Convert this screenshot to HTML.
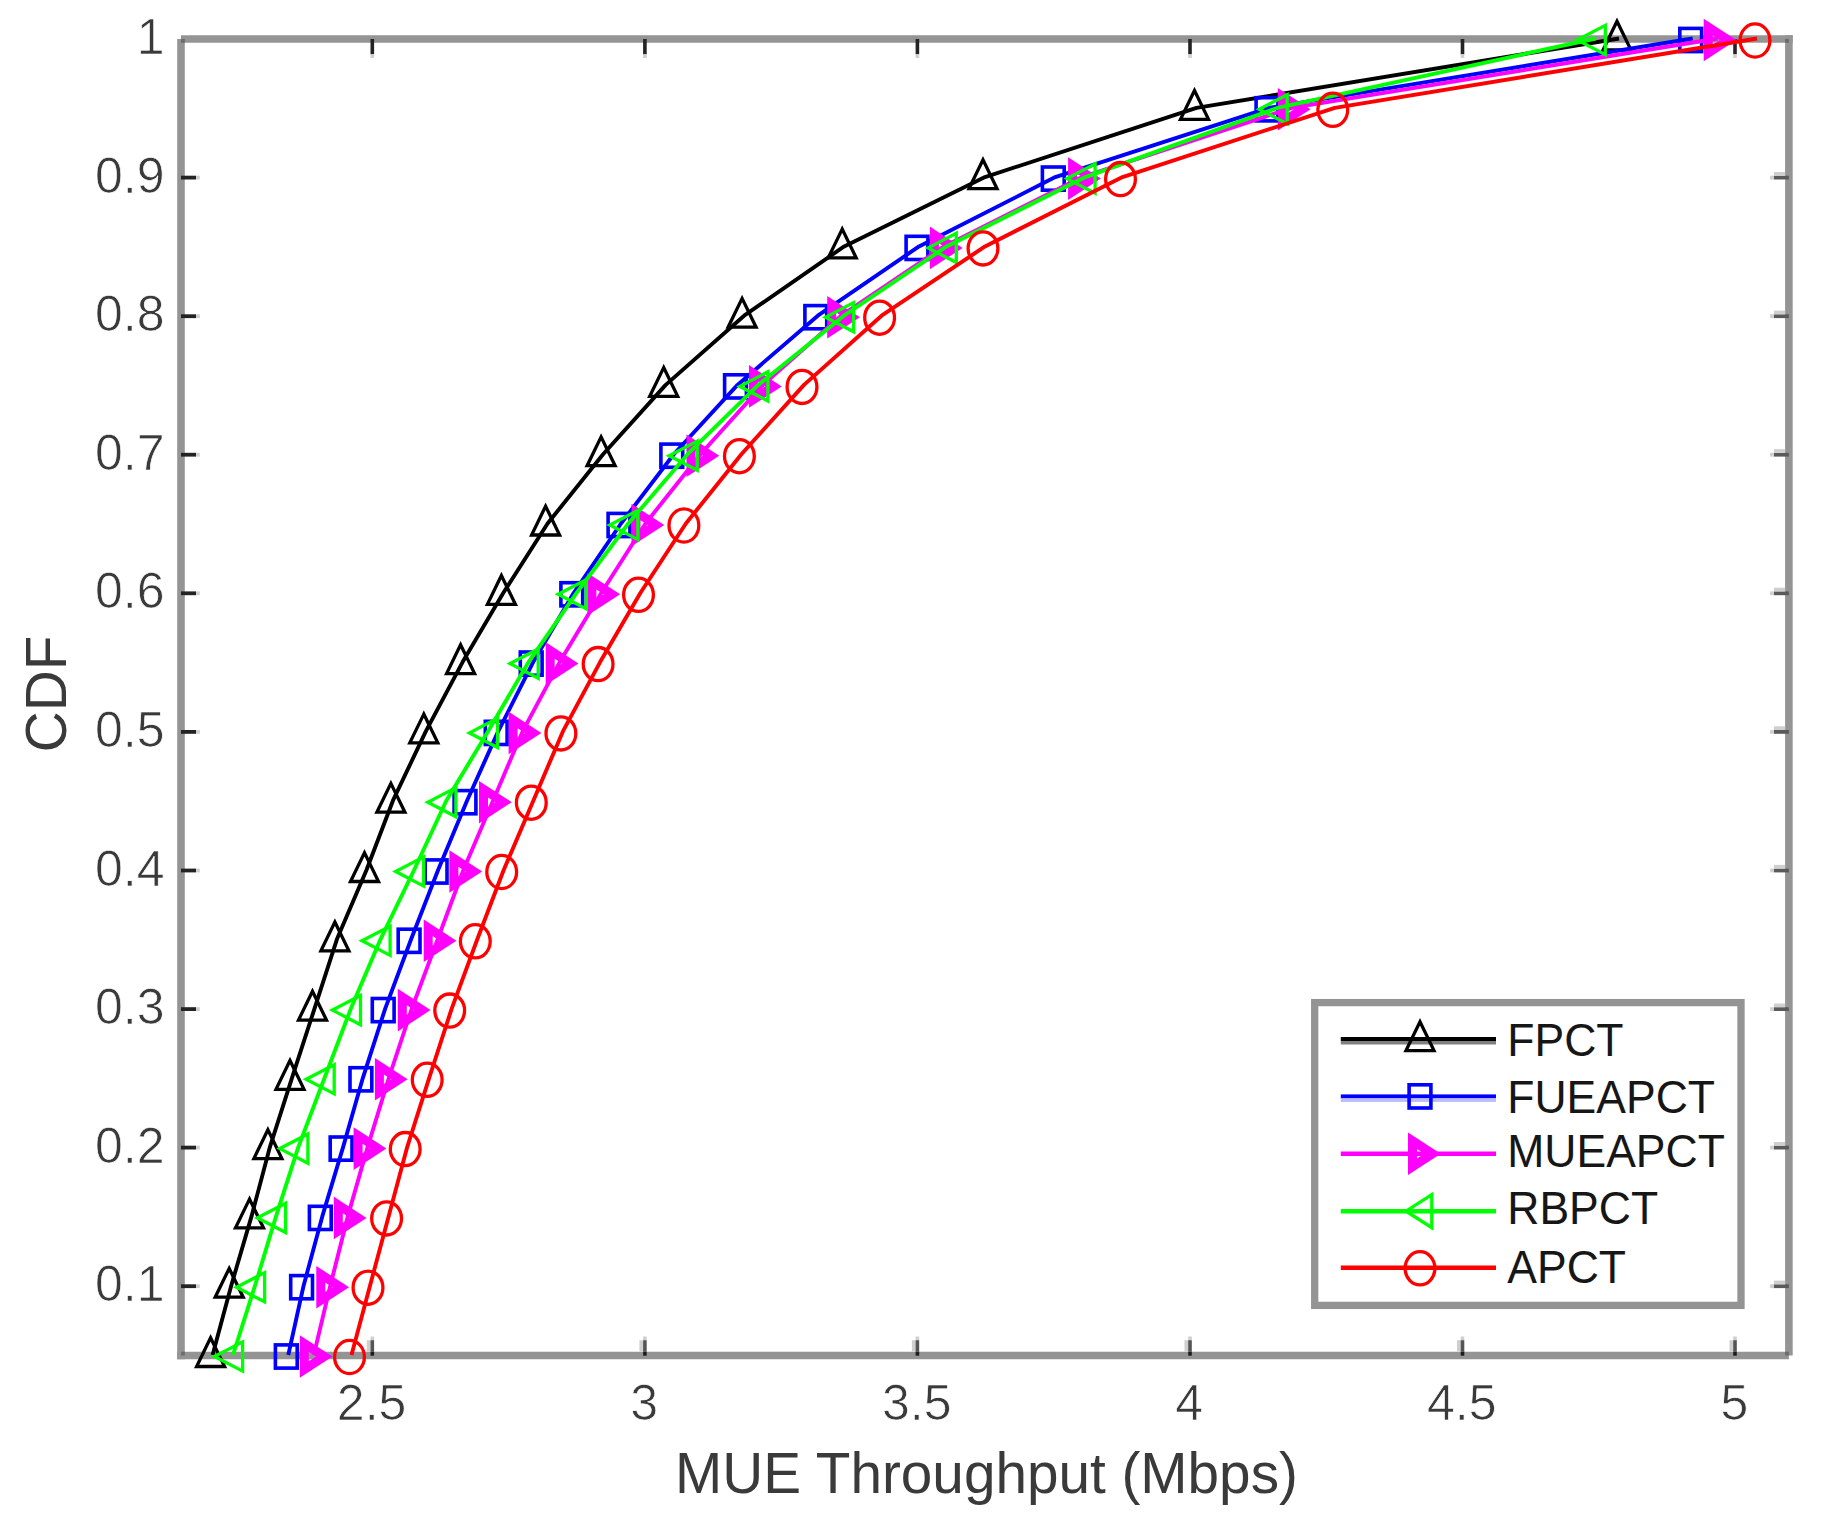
<!DOCTYPE html>
<html><head><meta charset="utf-8"><title>CDF of MUE Throughput</title>
<style>
html,body{margin:0;padding:0;background:#fff;}
body{width:1823px;height:1522px;overflow:hidden;}
svg{display:block;}
text{font-family:"Liberation Sans",sans-serif;}
.tk{font-size:50px;fill:#3a3a3a;stroke:#fff;stroke-width:0.7px;}
.lb{font-size:56.7px;fill:#3a3a3a;}
.lg{font-size:44.5px;fill:#161616;}
</style></head><body>
<svg width="1823" height="1522" viewBox="0 0 1823 1522">
<rect width="1823" height="1522" fill="#fff"/>

<g stroke="#949494" stroke-width="7.6" fill="none">
<line x1="181.0" y1="39.0" x2="1792.7" y2="39.0"/>
<line x1="181.0" y1="39.0" x2="181.0" y2="1359.3"/>
<line x1="177.2" y1="1355.5" x2="1788.9" y2="1355.5"/>
<line x1="1788.9" y1="35.2" x2="1788.9" y2="1355.5"/>
</g>
<rect x="181.0" y="39.0" width="3.8" height="3.8" fill="#6c6c6c"/>
<rect x="1785.1" y="39.0" width="3.8" height="3.8" fill="#6c6c6c"/>
<rect x="181.0" y="1351.7" width="3.8" height="3.8" fill="#6c6c6c"/>
<rect x="1785.1" y="1351.7" width="3.8" height="3.8" fill="#6c6c6c"/>
<rect x="366.8" y="1340.2" width="3.8" height="11.5" fill="#cfcfcf"/>
<rect x="370.5" y="1336.5" width="3.6" height="3.8" fill="#cfcfcf"/>
<rect x="370.5" y="1340.2" width="3.6" height="11.5" fill="#555555"/>
<rect x="370.5" y="1351.7" width="3.6" height="4" fill="#1c1c1c"/>
<rect x="370.5" y="39.0" width="3.6" height="15.3" fill="#232323"/>
<rect x="370.5" y="54.3" width="3.6" height="3.7" fill="#cfcfcf"/>
<text class="tk" x="371.6" y="1420.3" text-anchor="middle">2.5</text>
<rect x="639.4" y="1340.2" width="3.8" height="11.5" fill="#cfcfcf"/>
<rect x="643.1" y="1336.5" width="3.6" height="3.8" fill="#cfcfcf"/>
<rect x="643.1" y="1340.2" width="3.6" height="11.5" fill="#555555"/>
<rect x="643.1" y="1351.7" width="3.6" height="4" fill="#1c1c1c"/>
<rect x="643.1" y="39.0" width="3.6" height="15.3" fill="#232323"/>
<rect x="643.1" y="54.3" width="3.6" height="3.7" fill="#cfcfcf"/>
<text class="tk" x="644.1" y="1420.3" text-anchor="middle">3</text>
<rect x="911.9" y="1340.2" width="3.8" height="11.5" fill="#cfcfcf"/>
<rect x="915.6" y="1336.5" width="3.6" height="3.8" fill="#cfcfcf"/>
<rect x="915.6" y="1340.2" width="3.6" height="11.5" fill="#555555"/>
<rect x="915.6" y="1351.7" width="3.6" height="4" fill="#1c1c1c"/>
<rect x="915.6" y="39.0" width="3.6" height="15.3" fill="#232323"/>
<rect x="915.6" y="54.3" width="3.6" height="3.7" fill="#cfcfcf"/>
<text class="tk" x="916.7" y="1420.3" text-anchor="middle">3.5</text>
<rect x="1184.5" y="1340.2" width="3.8" height="11.5" fill="#cfcfcf"/>
<rect x="1188.2" y="1336.5" width="3.6" height="3.8" fill="#cfcfcf"/>
<rect x="1188.2" y="1340.2" width="3.6" height="11.5" fill="#555555"/>
<rect x="1188.2" y="1351.7" width="3.6" height="4" fill="#1c1c1c"/>
<rect x="1188.2" y="39.0" width="3.6" height="15.3" fill="#232323"/>
<rect x="1188.2" y="54.3" width="3.6" height="3.7" fill="#cfcfcf"/>
<text class="tk" x="1189.2" y="1420.3" text-anchor="middle">4</text>
<rect x="1457.0" y="1340.2" width="3.8" height="11.5" fill="#cfcfcf"/>
<rect x="1460.7" y="1336.5" width="3.6" height="3.8" fill="#cfcfcf"/>
<rect x="1460.7" y="1340.2" width="3.6" height="11.5" fill="#555555"/>
<rect x="1460.7" y="1351.7" width="3.6" height="4" fill="#1c1c1c"/>
<rect x="1460.7" y="39.0" width="3.6" height="15.3" fill="#232323"/>
<rect x="1460.7" y="54.3" width="3.6" height="3.7" fill="#cfcfcf"/>
<text class="tk" x="1461.8" y="1420.3" text-anchor="middle">4.5</text>
<rect x="1729.5" y="1340.2" width="3.8" height="11.5" fill="#cfcfcf"/>
<rect x="1733.2" y="1336.5" width="3.6" height="3.8" fill="#cfcfcf"/>
<rect x="1733.2" y="1340.2" width="3.6" height="11.5" fill="#555555"/>
<rect x="1733.2" y="1351.7" width="3.6" height="4" fill="#1c1c1c"/>
<rect x="1733.2" y="39.0" width="3.6" height="15.3" fill="#232323"/>
<rect x="1733.2" y="54.3" width="3.6" height="3.7" fill="#cfcfcf"/>
<text class="tk" x="1734.3" y="1420.3" text-anchor="middle">5</text>
<rect x="181.0" y="1284.3" width="15" height="3.8" fill="#232323"/>
<rect x="196.0" y="1284.3" width="3.8" height="3.8" fill="#cfcfcf"/>
<rect x="1773.9" y="1284.3" width="15" height="3.8" fill="#5a5a5a"/>
<rect x="1770.1" y="1284.3" width="3.8" height="3.8" fill="#cfcfcf"/>
<rect x="1773.9" y="1280.6" width="11.2" height="3.7" fill="#cfcfcf"/>
<text class="tk" x="164.5" y="1301.2" text-anchor="end">0.1</text>
<rect x="181.0" y="1145.7" width="15" height="3.8" fill="#232323"/>
<rect x="196.0" y="1145.7" width="3.8" height="3.8" fill="#cfcfcf"/>
<rect x="1773.9" y="1145.7" width="15" height="3.8" fill="#5a5a5a"/>
<rect x="1770.1" y="1145.7" width="3.8" height="3.8" fill="#cfcfcf"/>
<rect x="1773.9" y="1142.0" width="11.2" height="3.7" fill="#cfcfcf"/>
<text class="tk" x="164.5" y="1162.6" text-anchor="end">0.2</text>
<rect x="181.0" y="1007.2" width="15" height="3.8" fill="#232323"/>
<rect x="196.0" y="1007.2" width="3.8" height="3.8" fill="#cfcfcf"/>
<rect x="1773.9" y="1007.2" width="15" height="3.8" fill="#5a5a5a"/>
<rect x="1770.1" y="1007.2" width="3.8" height="3.8" fill="#cfcfcf"/>
<rect x="1773.9" y="1003.5" width="11.2" height="3.7" fill="#cfcfcf"/>
<text class="tk" x="164.5" y="1024.1" text-anchor="end">0.3</text>
<rect x="181.0" y="868.6" width="15" height="3.8" fill="#232323"/>
<rect x="196.0" y="868.6" width="3.8" height="3.8" fill="#cfcfcf"/>
<rect x="1773.9" y="868.6" width="15" height="3.8" fill="#5a5a5a"/>
<rect x="1770.1" y="868.6" width="3.8" height="3.8" fill="#cfcfcf"/>
<rect x="1773.9" y="864.9" width="11.2" height="3.7" fill="#cfcfcf"/>
<text class="tk" x="164.5" y="885.5" text-anchor="end">0.4</text>
<rect x="181.0" y="730.0" width="15" height="3.8" fill="#232323"/>
<rect x="196.0" y="730.0" width="3.8" height="3.8" fill="#cfcfcf"/>
<rect x="1773.9" y="730.0" width="15" height="3.8" fill="#5a5a5a"/>
<rect x="1770.1" y="730.0" width="3.8" height="3.8" fill="#cfcfcf"/>
<rect x="1773.9" y="726.3" width="11.2" height="3.7" fill="#cfcfcf"/>
<text class="tk" x="164.5" y="746.9" text-anchor="end">0.5</text>
<rect x="181.0" y="591.4" width="15" height="3.8" fill="#232323"/>
<rect x="196.0" y="591.4" width="3.8" height="3.8" fill="#cfcfcf"/>
<rect x="1773.9" y="591.4" width="15" height="3.8" fill="#5a5a5a"/>
<rect x="1770.1" y="591.4" width="3.8" height="3.8" fill="#cfcfcf"/>
<rect x="1773.9" y="587.7" width="11.2" height="3.7" fill="#cfcfcf"/>
<text class="tk" x="164.5" y="608.3" text-anchor="end">0.6</text>
<rect x="181.0" y="452.8" width="15" height="3.8" fill="#232323"/>
<rect x="196.0" y="452.8" width="3.8" height="3.8" fill="#cfcfcf"/>
<rect x="1773.9" y="452.8" width="15" height="3.8" fill="#5a5a5a"/>
<rect x="1770.1" y="452.8" width="3.8" height="3.8" fill="#cfcfcf"/>
<rect x="1773.9" y="449.1" width="11.2" height="3.7" fill="#cfcfcf"/>
<text class="tk" x="164.5" y="469.7" text-anchor="end">0.7</text>
<rect x="181.0" y="314.3" width="15" height="3.8" fill="#232323"/>
<rect x="196.0" y="314.3" width="3.8" height="3.8" fill="#cfcfcf"/>
<rect x="1773.9" y="314.3" width="15" height="3.8" fill="#5a5a5a"/>
<rect x="1770.1" y="314.3" width="3.8" height="3.8" fill="#cfcfcf"/>
<rect x="1773.9" y="310.6" width="11.2" height="3.7" fill="#cfcfcf"/>
<text class="tk" x="164.5" y="331.2" text-anchor="end">0.8</text>
<rect x="181.0" y="175.7" width="15" height="3.8" fill="#232323"/>
<rect x="196.0" y="175.7" width="3.8" height="3.8" fill="#cfcfcf"/>
<rect x="1773.9" y="175.7" width="15" height="3.8" fill="#5a5a5a"/>
<rect x="1770.1" y="175.7" width="3.8" height="3.8" fill="#cfcfcf"/>
<rect x="1773.9" y="172.0" width="11.2" height="3.7" fill="#cfcfcf"/>
<text class="tk" x="164.5" y="192.6" text-anchor="end">0.9</text>
<text class="tk" x="164.5" y="54.0" text-anchor="end">1</text>
<text class="lb" x="986.5" y="1493.3" text-anchor="middle">MUE Throughput (Mbps)</text>
<text class="lb" transform="translate(65.8,694) rotate(-90)" text-anchor="middle">CDF</text>
<polyline points="212.6,1355.0 231.2,1285.7 251.5,1216.4 269.9,1147.1 292.0,1077.8 314.5,1008.6 336.9,939.3 366.5,870.0 392.9,800.7 425.8,731.4 462.6,662.1 503.4,592.8 547.6,523.5 603.1,454.2 665.7,384.9 744.1,315.7 844.2,246.4 985.0,177.1 1196.5,107.8 1619.0,38.5" fill="none" stroke="#000000" stroke-width="3.9" stroke-linejoin="round"/>
<polygon points="210.6,1337.7 196.6,1366.5 224.6,1366.5" fill="none" stroke="#000000" stroke-width="3.3" stroke-linejoin="miter"/>
<polygon points="229.2,1268.4 215.2,1297.2 243.2,1297.2" fill="none" stroke="#000000" stroke-width="3.3" stroke-linejoin="miter"/>
<polygon points="249.5,1199.1 235.5,1227.9 263.5,1227.9" fill="none" stroke="#000000" stroke-width="3.3" stroke-linejoin="miter"/>
<polygon points="267.9,1129.8 253.9,1158.6 281.9,1158.6" fill="none" stroke="#000000" stroke-width="3.3" stroke-linejoin="miter"/>
<polygon points="290.0,1060.5 276.0,1089.3 304.0,1089.3" fill="none" stroke="#000000" stroke-width="3.3" stroke-linejoin="miter"/>
<polygon points="312.5,991.3 298.5,1020.1 326.5,1020.1" fill="none" stroke="#000000" stroke-width="3.3" stroke-linejoin="miter"/>
<polygon points="334.9,922.0 320.9,950.8 348.9,950.8" fill="none" stroke="#000000" stroke-width="3.3" stroke-linejoin="miter"/>
<polygon points="364.5,852.7 350.5,881.5 378.5,881.5" fill="none" stroke="#000000" stroke-width="3.3" stroke-linejoin="miter"/>
<polygon points="390.9,783.4 376.9,812.2 404.9,812.2" fill="none" stroke="#000000" stroke-width="3.3" stroke-linejoin="miter"/>
<polygon points="423.8,714.1 409.8,742.9 437.8,742.9" fill="none" stroke="#000000" stroke-width="3.3" stroke-linejoin="miter"/>
<polygon points="460.6,644.8 446.6,673.6 474.6,673.6" fill="none" stroke="#000000" stroke-width="3.3" stroke-linejoin="miter"/>
<polygon points="501.4,575.5 487.4,604.3 515.4,604.3" fill="none" stroke="#000000" stroke-width="3.3" stroke-linejoin="miter"/>
<polygon points="545.6,506.2 531.6,535.0 559.6,535.0" fill="none" stroke="#000000" stroke-width="3.3" stroke-linejoin="miter"/>
<polygon points="601.1,436.9 587.1,465.7 615.1,465.7" fill="none" stroke="#000000" stroke-width="3.3" stroke-linejoin="miter"/>
<polygon points="663.7,367.6 649.7,396.4 677.7,396.4" fill="none" stroke="#000000" stroke-width="3.3" stroke-linejoin="miter"/>
<polygon points="742.1,298.4 728.1,327.2 756.1,327.2" fill="none" stroke="#000000" stroke-width="3.3" stroke-linejoin="miter"/>
<polygon points="842.2,229.1 828.2,257.9 856.2,257.9" fill="none" stroke="#000000" stroke-width="3.3" stroke-linejoin="miter"/>
<polygon points="983.0,159.8 969.0,188.6 997.0,188.6" fill="none" stroke="#000000" stroke-width="3.3" stroke-linejoin="miter"/>
<polygon points="1194.5,90.5 1180.5,119.3 1208.5,119.3" fill="none" stroke="#000000" stroke-width="3.3" stroke-linejoin="miter"/>
<polygon points="1617.0,21.2 1603.0,50.0 1631.0,50.0" fill="none" stroke="#000000" stroke-width="3.3" stroke-linejoin="miter"/>
<polyline points="288.3,1355.0 303.6,1285.7 322.3,1216.4 343.1,1147.1 362.9,1077.8 385.2,1008.6 411.1,939.3 438.1,870.0 467.0,800.7 498.2,731.4 533.2,662.1 573.8,592.8 621.0,523.5 673.8,454.2 737.5,384.9 817.8,315.7 919.0,246.4 1055.3,177.1 1269.0,107.8 1692.7,38.5" fill="none" stroke="#0000ff" stroke-width="3.9" stroke-linejoin="round"/>
<rect x="275.4" y="1344.9" width="21.8" height="23.2" fill="none" stroke="#0000ff" stroke-width="3.5999999999999996"/>
<rect x="290.7" y="1275.6" width="21.8" height="23.2" fill="none" stroke="#0000ff" stroke-width="3.5999999999999996"/>
<rect x="309.4" y="1206.3" width="21.8" height="23.2" fill="none" stroke="#0000ff" stroke-width="3.5999999999999996"/>
<rect x="330.2" y="1137.0" width="21.8" height="23.2" fill="none" stroke="#0000ff" stroke-width="3.5999999999999996"/>
<rect x="350.0" y="1067.7" width="21.8" height="23.2" fill="none" stroke="#0000ff" stroke-width="3.5999999999999996"/>
<rect x="372.3" y="998.5" width="21.8" height="23.2" fill="none" stroke="#0000ff" stroke-width="3.5999999999999996"/>
<rect x="398.2" y="929.2" width="21.8" height="23.2" fill="none" stroke="#0000ff" stroke-width="3.5999999999999996"/>
<rect x="425.2" y="859.9" width="21.8" height="23.2" fill="none" stroke="#0000ff" stroke-width="3.5999999999999996"/>
<rect x="454.1" y="790.6" width="21.8" height="23.2" fill="none" stroke="#0000ff" stroke-width="3.5999999999999996"/>
<rect x="485.3" y="721.3" width="21.8" height="23.2" fill="none" stroke="#0000ff" stroke-width="3.5999999999999996"/>
<rect x="520.3" y="652.0" width="21.8" height="23.2" fill="none" stroke="#0000ff" stroke-width="3.5999999999999996"/>
<rect x="560.9" y="582.7" width="21.8" height="23.2" fill="none" stroke="#0000ff" stroke-width="3.5999999999999996"/>
<rect x="608.1" y="513.4" width="21.8" height="23.2" fill="none" stroke="#0000ff" stroke-width="3.5999999999999996"/>
<rect x="660.9" y="444.1" width="21.8" height="23.2" fill="none" stroke="#0000ff" stroke-width="3.5999999999999996"/>
<rect x="724.6" y="374.8" width="21.8" height="23.2" fill="none" stroke="#0000ff" stroke-width="3.5999999999999996"/>
<rect x="804.9" y="305.6" width="21.8" height="23.2" fill="none" stroke="#0000ff" stroke-width="3.5999999999999996"/>
<rect x="906.1" y="236.3" width="21.8" height="23.2" fill="none" stroke="#0000ff" stroke-width="3.5999999999999996"/>
<rect x="1042.4" y="167.0" width="21.8" height="23.2" fill="none" stroke="#0000ff" stroke-width="3.5999999999999996"/>
<rect x="1256.1" y="97.7" width="21.8" height="23.2" fill="none" stroke="#0000ff" stroke-width="3.5999999999999996"/>
<rect x="1679.8" y="28.4" width="21.8" height="23.2" fill="none" stroke="#0000ff" stroke-width="3.5999999999999996"/>
<polyline points="313.8,1355.0 330.3,1285.7 347.8,1216.4 367.6,1147.1 388.9,1077.8 411.8,1008.6 437.7,939.3 463.4,870.0 493.0,800.7 522.6,731.4 559.7,662.1 601.4,592.8 645.5,523.5 700.5,454.2 763.0,384.9 841.2,315.7 943.9,246.4 1082.1,177.1 1291.8,107.8 1717.7,38.5" fill="none" stroke="#ff00ff" stroke-width="3.9" stroke-linejoin="round"/>
<polygon points="304.3,1343.5 324.3,1356.5 304.3,1369.5" fill="none" stroke="#ff00ff" stroke-width="9" stroke-linejoin="miter"/>
<polygon points="320.8,1274.2 340.8,1287.2 320.8,1300.2" fill="none" stroke="#ff00ff" stroke-width="9" stroke-linejoin="miter"/>
<polygon points="338.3,1204.9 358.3,1217.9 338.3,1230.9" fill="none" stroke="#ff00ff" stroke-width="9" stroke-linejoin="miter"/>
<polygon points="358.1,1135.6 378.1,1148.6 358.1,1161.6" fill="none" stroke="#ff00ff" stroke-width="9" stroke-linejoin="miter"/>
<polygon points="379.4,1066.3 399.4,1079.3 379.4,1092.3" fill="none" stroke="#ff00ff" stroke-width="9" stroke-linejoin="miter"/>
<polygon points="402.3,997.1 422.3,1010.1 402.3,1023.1" fill="none" stroke="#ff00ff" stroke-width="9" stroke-linejoin="miter"/>
<polygon points="428.2,927.8 448.2,940.8 428.2,953.8" fill="none" stroke="#ff00ff" stroke-width="9" stroke-linejoin="miter"/>
<polygon points="453.9,858.5 473.9,871.5 453.9,884.5" fill="none" stroke="#ff00ff" stroke-width="9" stroke-linejoin="miter"/>
<polygon points="483.5,789.2 503.5,802.2 483.5,815.2" fill="none" stroke="#ff00ff" stroke-width="9" stroke-linejoin="miter"/>
<polygon points="513.1,719.9 533.1,732.9 513.1,745.9" fill="none" stroke="#ff00ff" stroke-width="9" stroke-linejoin="miter"/>
<polygon points="550.2,650.6 570.2,663.6 550.2,676.6" fill="none" stroke="#ff00ff" stroke-width="9" stroke-linejoin="miter"/>
<polygon points="591.9,581.3 611.9,594.3 591.9,607.3" fill="none" stroke="#ff00ff" stroke-width="9" stroke-linejoin="miter"/>
<polygon points="636.0,512.0 656.0,525.0 636.0,538.0" fill="none" stroke="#ff00ff" stroke-width="9" stroke-linejoin="miter"/>
<polygon points="691.0,442.7 711.0,455.7 691.0,468.7" fill="none" stroke="#ff00ff" stroke-width="9" stroke-linejoin="miter"/>
<polygon points="753.5,373.4 773.5,386.4 753.5,399.4" fill="none" stroke="#ff00ff" stroke-width="9" stroke-linejoin="miter"/>
<polygon points="831.7,304.2 851.7,317.2 831.7,330.2" fill="none" stroke="#ff00ff" stroke-width="9" stroke-linejoin="miter"/>
<polygon points="934.4,234.9 954.4,247.9 934.4,260.9" fill="none" stroke="#ff00ff" stroke-width="9" stroke-linejoin="miter"/>
<polygon points="1072.6,165.6 1092.6,178.6 1072.6,191.6" fill="none" stroke="#ff00ff" stroke-width="9" stroke-linejoin="miter"/>
<polygon points="1282.3,96.3 1302.3,109.3 1282.3,122.3" fill="none" stroke="#ff00ff" stroke-width="9" stroke-linejoin="miter"/>
<polygon points="1708.2,27.0 1728.2,40.0 1708.2,53.0" fill="none" stroke="#ff00ff" stroke-width="9" stroke-linejoin="miter"/>
<polyline points="233.0,1355.0 255.0,1285.7 276.0,1216.4 298.3,1147.1 324.6,1077.8 350.9,1008.6 380.5,939.3 414.1,870.0 446.3,800.7 488.0,731.4 528.6,662.1 576.6,592.8 628.3,523.5 687.6,454.2 758.3,384.9 844.0,315.7 946.7,246.4 1085.5,177.1 1277.6,107.8 1595.7,38.5" fill="none" stroke="#00ff00" stroke-width="3.9" stroke-linejoin="round"/>
<polygon points="242.6,1341.9 214.5,1356.5 242.6,1371.1" fill="none" stroke="#00ff00" stroke-width="3.3" stroke-linejoin="miter"/>
<polygon points="264.6,1272.6 236.5,1287.2 264.6,1301.8" fill="none" stroke="#00ff00" stroke-width="3.3" stroke-linejoin="miter"/>
<polygon points="285.6,1203.3 257.5,1217.9 285.6,1232.5" fill="none" stroke="#00ff00" stroke-width="3.3" stroke-linejoin="miter"/>
<polygon points="307.9,1134.0 279.8,1148.6 307.9,1163.2" fill="none" stroke="#00ff00" stroke-width="3.3" stroke-linejoin="miter"/>
<polygon points="334.2,1064.7 306.1,1079.3 334.2,1093.9" fill="none" stroke="#00ff00" stroke-width="3.3" stroke-linejoin="miter"/>
<polygon points="360.5,995.5 332.4,1010.1 360.5,1024.7" fill="none" stroke="#00ff00" stroke-width="3.3" stroke-linejoin="miter"/>
<polygon points="390.1,926.2 362.0,940.8 390.1,955.4" fill="none" stroke="#00ff00" stroke-width="3.3" stroke-linejoin="miter"/>
<polygon points="423.7,856.9 395.6,871.5 423.7,886.1" fill="none" stroke="#00ff00" stroke-width="3.3" stroke-linejoin="miter"/>
<polygon points="455.9,787.6 427.8,802.2 455.9,816.8" fill="none" stroke="#00ff00" stroke-width="3.3" stroke-linejoin="miter"/>
<polygon points="497.6,718.3 469.5,732.9 497.6,747.5" fill="none" stroke="#00ff00" stroke-width="3.3" stroke-linejoin="miter"/>
<polygon points="538.2,649.0 510.1,663.6 538.2,678.2" fill="none" stroke="#00ff00" stroke-width="3.3" stroke-linejoin="miter"/>
<polygon points="586.2,579.7 558.1,594.3 586.2,608.9" fill="none" stroke="#00ff00" stroke-width="3.3" stroke-linejoin="miter"/>
<polygon points="637.9,510.4 609.8,525.0 637.9,539.6" fill="none" stroke="#00ff00" stroke-width="3.3" stroke-linejoin="miter"/>
<polygon points="697.2,441.1 669.1,455.7 697.2,470.3" fill="none" stroke="#00ff00" stroke-width="3.3" stroke-linejoin="miter"/>
<polygon points="767.9,371.8 739.8,386.4 767.9,401.0" fill="none" stroke="#00ff00" stroke-width="3.3" stroke-linejoin="miter"/>
<polygon points="853.6,302.6 825.5,317.2 853.6,331.8" fill="none" stroke="#00ff00" stroke-width="3.3" stroke-linejoin="miter"/>
<polygon points="956.3,233.3 928.2,247.9 956.3,262.5" fill="none" stroke="#00ff00" stroke-width="3.3" stroke-linejoin="miter"/>
<polygon points="1095.1,164.0 1067.0,178.6 1095.1,193.2" fill="none" stroke="#00ff00" stroke-width="3.3" stroke-linejoin="miter"/>
<polygon points="1287.2,94.7 1259.1,109.3 1287.2,123.9" fill="none" stroke="#00ff00" stroke-width="3.3" stroke-linejoin="miter"/>
<polygon points="1605.3,25.4 1577.2,40.0 1605.3,54.6" fill="none" stroke="#00ff00" stroke-width="3.3" stroke-linejoin="miter"/>
<polyline points="351.5,1355.0 370.0,1285.7 388.6,1216.4 407.2,1147.1 429.2,1077.8 451.7,1008.6 477.3,939.3 503.7,870.0 533.3,800.7 562.9,731.4 600.1,662.1 640.5,592.8 685.9,523.5 741.4,454.2 804.0,384.9 881.6,315.7 985.0,246.4 1122.5,177.1 1334.8,107.8 1757.0,38.5" fill="none" stroke="#ff0000" stroke-width="3.9" stroke-linejoin="round"/>
<ellipse cx="349.5" cy="1357.0" rx="14.9" ry="16.6" fill="none" stroke="#ff0000" stroke-width="3.3"/>
<ellipse cx="368.0" cy="1287.7" rx="14.9" ry="16.6" fill="none" stroke="#ff0000" stroke-width="3.3"/>
<ellipse cx="386.6" cy="1218.4" rx="14.9" ry="16.6" fill="none" stroke="#ff0000" stroke-width="3.3"/>
<ellipse cx="405.2" cy="1149.1" rx="14.9" ry="16.6" fill="none" stroke="#ff0000" stroke-width="3.3"/>
<ellipse cx="427.2" cy="1079.8" rx="14.9" ry="16.6" fill="none" stroke="#ff0000" stroke-width="3.3"/>
<ellipse cx="449.7" cy="1010.6" rx="14.9" ry="16.6" fill="none" stroke="#ff0000" stroke-width="3.3"/>
<ellipse cx="475.3" cy="941.3" rx="14.9" ry="16.6" fill="none" stroke="#ff0000" stroke-width="3.3"/>
<ellipse cx="501.7" cy="872.0" rx="14.9" ry="16.6" fill="none" stroke="#ff0000" stroke-width="3.3"/>
<ellipse cx="531.3" cy="802.7" rx="14.9" ry="16.6" fill="none" stroke="#ff0000" stroke-width="3.3"/>
<ellipse cx="560.9" cy="733.4" rx="14.9" ry="16.6" fill="none" stroke="#ff0000" stroke-width="3.3"/>
<ellipse cx="598.1" cy="664.1" rx="14.9" ry="16.6" fill="none" stroke="#ff0000" stroke-width="3.3"/>
<ellipse cx="638.5" cy="594.8" rx="14.9" ry="16.6" fill="none" stroke="#ff0000" stroke-width="3.3"/>
<ellipse cx="683.9" cy="525.5" rx="14.9" ry="16.6" fill="none" stroke="#ff0000" stroke-width="3.3"/>
<ellipse cx="739.4" cy="456.2" rx="14.9" ry="16.6" fill="none" stroke="#ff0000" stroke-width="3.3"/>
<ellipse cx="802.0" cy="386.9" rx="14.9" ry="16.6" fill="none" stroke="#ff0000" stroke-width="3.3"/>
<ellipse cx="879.6" cy="317.7" rx="14.9" ry="16.6" fill="none" stroke="#ff0000" stroke-width="3.3"/>
<ellipse cx="983.0" cy="248.4" rx="14.9" ry="16.6" fill="none" stroke="#ff0000" stroke-width="3.3"/>
<ellipse cx="1120.5" cy="179.1" rx="14.9" ry="16.6" fill="none" stroke="#ff0000" stroke-width="3.3"/>
<ellipse cx="1332.8" cy="109.8" rx="14.9" ry="16.6" fill="none" stroke="#ff0000" stroke-width="3.3"/>
<ellipse cx="1755.0" cy="40.5" rx="14.9" ry="16.6" fill="none" stroke="#ff0000" stroke-width="3.3"/>
<rect x="1314.7" y="1002.6" width="426.3" height="302.8" fill="#fff" stroke="#949494" stroke-width="7.3"/>
<rect x="1340.8" y="1037.0" width="155.2" height="4.0" fill="#000000"/>
<rect x="1340.8" y="1041.0" width="155.2" height="3.5" fill="#808080"/>
<polygon points="1420.0,1021.8 1406.0,1050.6 1434.0,1050.6" fill="none" stroke="#000000" stroke-width="3.3" stroke-linejoin="miter"/>
<text class="lg" transform="translate(1507.3,1055.8) scale(1,1.06)">FPCT</text>
<rect x="1340.8" y="1094.4" width="155.2" height="4.0" fill="#0000ff"/>
<rect x="1340.8" y="1098.4" width="155.2" height="3.5" fill="#bbbbff"/>
<rect x="1409.1" y="1084.8" width="21.8" height="23.2" fill="none" stroke="#0000ff" stroke-width="3.5999999999999996"/>
<text class="lg" transform="translate(1507.3,1113.2) scale(1,1.06)">FUEAPCT</text>
<line x1="1340.8" y1="1153.8" x2="1496" y2="1153.8" stroke="#ff00ff" stroke-width="4.6"/>
<polygon points="1412.5,1140.8 1432.5,1153.8 1412.5,1166.8" fill="none" stroke="#ff00ff" stroke-width="9" stroke-linejoin="miter"/>
<text class="lg" transform="translate(1507.3,1167.0) scale(1,1.06)">MUEAPCT</text>
<line x1="1340.8" y1="1211.2" x2="1496" y2="1211.2" stroke="#00ff00" stroke-width="4.6"/>
<polygon points="1431.8,1194.7 1406.0,1211.2 1431.8,1227.7" fill="none" stroke="#00ff00" stroke-width="3.3" stroke-linejoin="miter"/>
<text class="lg" transform="translate(1507.3,1224.3) scale(1,1.06)">RBPCT</text>
<line x1="1340.8" y1="1267.8" x2="1496" y2="1267.8" stroke="#ff0000" stroke-width="4.6"/>
<ellipse cx="1420.0" cy="1268.3" rx="14.9" ry="16.6" fill="none" stroke="#ff0000" stroke-width="3.3"/>
<text class="lg" transform="translate(1507.3,1282.8) scale(1,1.06)">APCT</text>
</svg></body></html>
